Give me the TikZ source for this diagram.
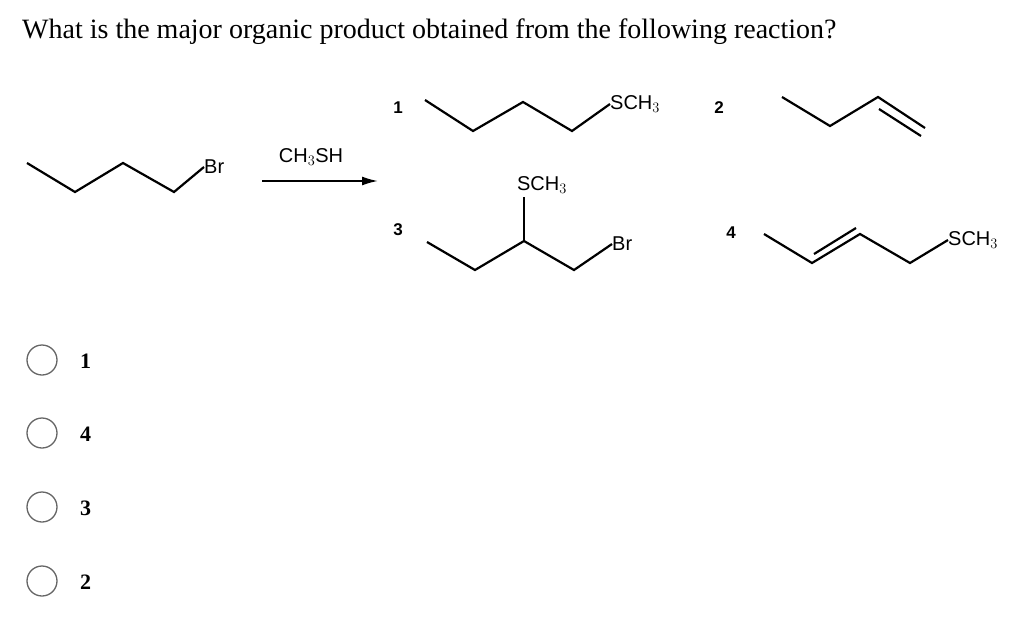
\documentclass[tikz,border=0pt]{standalone}
\usepackage{fontspec}
\setmainfont{Liberation Serif}
\newfontfamily\arial{Liberation Sans}
\usetikzlibrary{arrows.meta}
\begin{document}
\begin{tikzpicture}[x=1pt,y=-1pt,
  bond/.style={line width=2.2pt,line join=miter},
  atom/.style={font=\arial\fontsize{20}{20}\selectfont,inner sep=0pt},
  num/.style={font=\arial\bfseries\fontsize{17}{17}\selectfont,inner sep=0pt},
  radio/.style={circle,draw=gray!80!black,line width=1.3pt,minimum size=30pt,inner sep=0pt},
  opt/.style={font=\bfseries\fontsize{22}{22}\selectfont,inner sep=0pt}]
\useasboundingbox (0,0) rectangle (1024,623);
\node[anchor=west,font=\fontsize{28}{28}\selectfont,inner sep=0pt] (q) at (22,32) {What is the major organic product obtained from the following reaction?};
% starting material
\node[atom,anchor=west] (br0) at (204,167) {Br};
\draw[bond] (27,163)--(75,192)--(123,163)--(174,192)--(br0.west);
\node[atom] (r) at (311,157) {CH$_3$SH};
\coordinate (a1) at (262,181); \coordinate (a2) at (378,181);
\draw[line width=1.8pt,-{Latex[length=16pt,width=9pt]}] (a1)--(a2);
% 1
\node[num] (n1) at (398,108) {1};
\node[atom,anchor=west] (s1) at (610,104) {SCH$_3$};
\draw[bond] (425,100)--(473,131)--(523,102)--(572,131)--(s1.west);
% 2
\node[num] (n2) at (719,108) {2};
\draw[bond] (782,97)--(830,126)--(878,97)--(925,128);
\draw[bond] (879,109)--(921,136);
% 3
\node[num] (n3) at (398,230) {3};
\node[atom] (s3) at (542,185) {SCH$_3$};
\node[atom,anchor=west] (br3) at (612,244) {Br};
\draw[bond] (427,242)--(475,270)--(524,241)--(574,270)--(br3.west);
\draw[bond] (524,241)--(524,197);
% 4
\node[num] (n4) at (731,233) {4};
\node[atom,anchor=west] (s4) at (948,240) {SCH$_3$};
\draw[bond] (764,234)--(812,263)--(860,234)--(910,263)--(s4.west);
\draw[bond] (814,254)--(856,228);
% options
\node[radio] (c1) at (42,360) {}; \node[opt,anchor=west] (o1) at (80,361) {1};
\node[radio] (c2) at (42,433) {}; \node[opt,anchor=west] (o2) at (80,434) {4};
\node[radio] (c3) at (42,507) {}; \node[opt,anchor=west] (o3) at (80,508) {3};
\node[radio] (c4) at (42,581) {}; \node[opt,anchor=west] (o4) at (80,582) {2};
\end{tikzpicture}
\end{document}
